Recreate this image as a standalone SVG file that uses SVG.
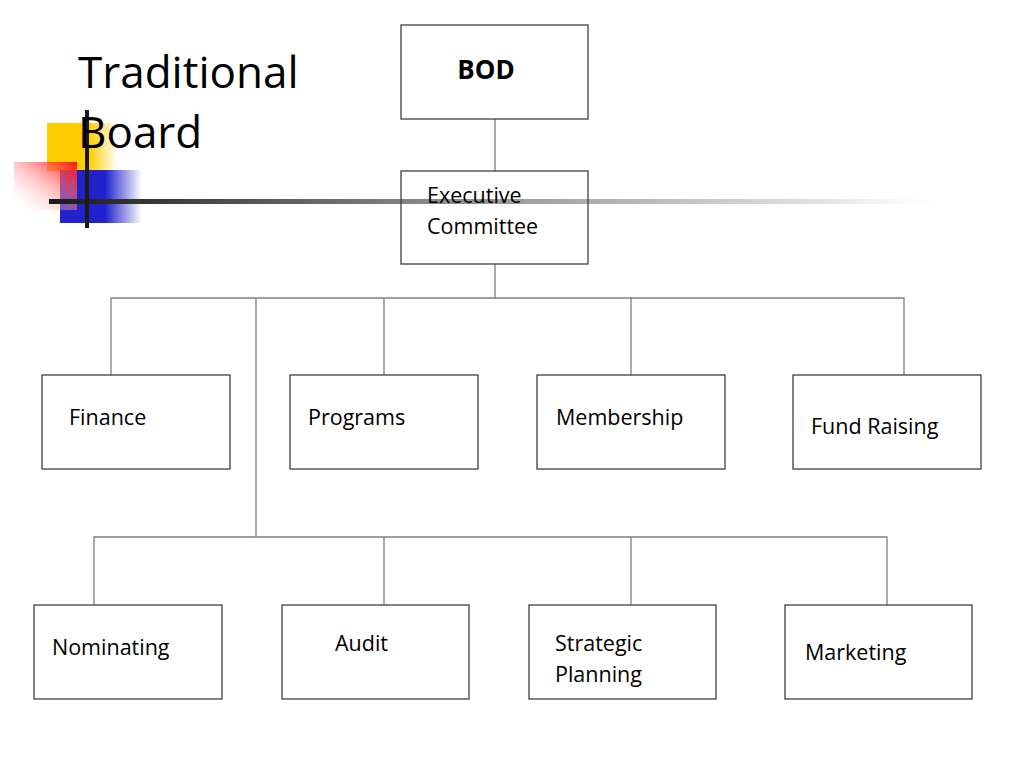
<svg xmlns="http://www.w3.org/2000/svg" width="1024" height="768" viewBox="0 0 1024 768">
<defs>
<linearGradient id="gy" x1="0" y1="0" x2="1" y2="0"><stop offset="0" stop-color="#FFCC00"/><stop offset="0.6" stop-color="#FFCC00"/><stop offset="1" stop-color="#FFCC00" stop-opacity="0"/></linearGradient>
<linearGradient id="gr" x1="1" y1="0" x2="0" y2="1"><stop offset="0" stop-color="#FF1010"/><stop offset="1" stop-color="#FFFFFF" stop-opacity="0"/></linearGradient>
<linearGradient id="gb" x1="0" y1="0" x2="1" y2="0"><stop offset="0" stop-color="#2222CC"/><stop offset="0.55" stop-color="#2222CC"/><stop offset="1" stop-color="#2222CC" stop-opacity="0"/></linearGradient>
<linearGradient id="gl" x1="0" y1="0" x2="1" y2="0"><stop offset="0" stop-color="#1a1a1a"/><stop offset="0.42" stop-color="#8a8a8a"/><stop offset="0.85" stop-color="#e4e4e4"/><stop offset="1" stop-color="#ffffff" stop-opacity="0"/></linearGradient>
<style>
.box{fill:#fff;stroke:#404040;stroke-width:1.3}
.c{stroke:#7f7f7f;stroke-width:1.3;fill:none}
.t{font-family:"Open Sans","Noto Sans",sans-serif;font-size:21.5px;fill:#000}
.b{font-weight:bold;font-size:26px}
.title{font-family:"Open Sans","Noto Sans",sans-serif;font-size:44px;fill:#000}
</style>
</defs>
<rect width="1024" height="768" fill="#fff"/>
<g id="decoration">
<rect x="47" y="123" width="70" height="48" fill="url(#gy)"/>
<rect x="60" y="170" width="82" height="53" fill="url(#gb)"/>
<rect x="14" y="162" width="63" height="48" fill="url(#gr)"/>
<rect x="49" y="199" width="920" height="5" fill="url(#gl)"/>
<rect x="85" y="110" width="4" height="118" fill="#1a1a1a"/>
</g>
<g id="connectors">
<line class="c" x1="495" y1="119" x2="495" y2="171"/>
<line class="c" x1="495" y1="264" x2="495" y2="298"/>
<polyline class="c" points="111,375 111,298 904,298 904,375"/>
<line class="c" x1="384" y1="298" x2="384" y2="375"/>
<line class="c" x1="631" y1="298" x2="631" y2="375"/>
<line class="c" x1="256" y1="298" x2="256" y2="537"/>
<polyline class="c" points="94,605 94,537 887,537 887,605"/>
<line class="c" x1="384" y1="537" x2="384" y2="605"/>
<line class="c" x1="631" y1="537" x2="631" y2="605"/>
</g>
<g id="bod"><rect class="box" x="401" y="25" width="187" height="94"/><text class="t b" x="486" y="79" text-anchor="middle">BOD</text></g>
<g id="exec"><rect class="box" x="401" y="171" width="187" height="93" style="fill:none"/><text class="t" x="427" y="203">Executive</text><text class="t" x="427" y="234">Committee</text></g>
<g id="finance"><rect class="box" x="42" y="375" width="188" height="94"/><text class="t" x="69" y="425">Finance</text></g>
<g id="programs"><rect class="box" x="290" y="375" width="188" height="94"/><text class="t" x="308" y="425">Programs</text></g>
<g id="membership"><rect class="box" x="537" y="375" width="188" height="94"/><text class="t" x="556" y="425">Membership</text></g>
<g id="fundraising"><rect class="box" x="793" y="375" width="188" height="94"/><text class="t" x="811" y="434">Fund Raising</text></g>
<g id="nominating"><rect class="box" x="34" y="605" width="188" height="94"/><text class="t" x="52" y="655">Nominating</text></g>
<g id="audit"><rect class="box" x="282" y="605" width="187" height="94"/><text class="t" x="335" y="651">Audit</text></g>
<g id="strategic"><rect class="box" x="529" y="605" width="187" height="94"/><text class="t" x="555" y="651">Strategic</text><text class="t" x="555" y="682">Planning</text></g>
<g id="marketing"><rect class="box" x="785" y="605" width="187" height="94"/><text class="t" x="805" y="660">Marketing</text></g>
<g id="title"><text class="title" x="78" y="88">Traditional</text><text class="title" x="78" y="148">Board</text></g>
</svg>
